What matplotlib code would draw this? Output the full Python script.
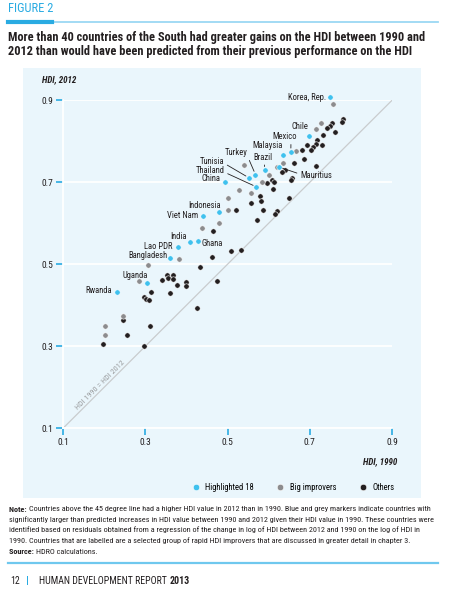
import numpy as np
import matplotlib
matplotlib.use('Agg')
import matplotlib.pyplot as plt
from matplotlib.patches import Rectangle
from matplotlib.lines import Line2D

NARROW = ['Roboto Condensed', 'Liberation Sans Narrow', 'Liberation Sans', 'DejaVu Sans']
plt.rcParams['font.family'] = NARROW

# highlighted 18 countries (HDI 1990, HDI 2012)
hl_names = ['Korea, Rep.', 'Chile', 'Mexico', 'Malaysia', 'Mauritius', 'Brazil',
            'Turkey', 'Tunisia', 'Thailand', 'China', 'Indonesia', 'Viet Nam',
            'India', 'Ghana', 'Lao PDR', 'Bangladesh', 'Uganda', 'Rwanda']
hl_1990 = [0.749, 0.699, 0.654, 0.634, 0.626, 0.590, 0.568, 0.552, 0.570, 0.493,
           0.479, 0.440, 0.410, 0.428, 0.379, 0.361, 0.304, 0.232]
hl_2012 = [0.907, 0.813, 0.775, 0.767, 0.737, 0.730, 0.719, 0.711, 0.689, 0.700,
           0.627, 0.618, 0.554, 0.558, 0.542, 0.515, 0.454, 0.433]

# big improvers (grey)
big_1990 = [0.756, 0.728, 0.714, 0.667, 0.634, 0.620, 0.601, 0.540, 0.583, 0.558, 0.528,
            0.501, 0.502, 0.479, 0.439, 0.383, 0.306, 0.286, 0.246, 0.203, 0.203]
big_2012 = [0.892, 0.845, 0.831, 0.777, 0.746, 0.737, 0.718, 0.741, 0.701, 0.675, 0.680,
            0.661, 0.632, 0.601, 0.589, 0.514, 0.498, 0.459, 0.374, 0.349, 0.327]

# others (black)
oth_1990 = [0.781, 0.778, 0.755, 0.750, 0.741, 0.761, 0.732, 0.717, 0.714, 0.731, 0.707,
            0.704, 0.693, 0.680, 0.685, 0.661, 0.715, 0.641, 0.632, 0.658, 0.655, 0.609,
            0.613, 0.595, 0.610, 0.650, 0.578, 0.582, 0.558, 0.520, 0.587, 0.621, 0.616,
            0.571, 0.464, 0.509, 0.532, 0.463, 0.432, 0.353, 0.367, 0.341, 0.355, 0.368,
            0.399, 0.398, 0.378, 0.475, 0.313, 0.360, 0.296, 0.301, 0.310, 0.426, 0.245,
            0.311, 0.255, 0.197, 0.296]
oth_2012 = [0.854, 0.847, 0.844, 0.838, 0.832, 0.823, 0.815, 0.803, 0.794, 0.790, 0.785,
            0.779, 0.790, 0.779, 0.757, 0.747, 0.740, 0.729, 0.724, 0.710, 0.705, 0.706,
            0.700, 0.699, 0.683, 0.661, 0.667, 0.654, 0.650, 0.632, 0.632, 0.629, 0.623,
            0.609, 0.581, 0.533, 0.535, 0.517, 0.494, 0.475, 0.473, 0.462, 0.466, 0.465,
            0.457, 0.447, 0.450, 0.460, 0.433, 0.430, 0.420, 0.415, 0.414, 0.393, 0.364,
            0.350, 0.327, 0.305, 0.300]

ticks = [0.1, 0.3, 0.5, 0.7, 0.9]

# label placement: offset in pixels from the dot, horizontal alignment, leader relpos
label_pos = {
    'Korea, Rep.': (-4, 0, 'right', None),
    'Chile': (-1, 9, 'right', None),
    'Mexico': (-6, 15, 'center', (0.75, 0.0)),
    'Malaysia': (0, 9, 'right', None),
    'Mauritius': (21, -8, 'left', (0.0, 0.6)),
    'Brazil': (-2, 13, 'center', (0.6, 0.0)),
    'Turkey': (-8, 22, 'right', (1.0, 0.1)),
    'Tunisia': (-25, 16, 'right', (1.0, 0.35)),
    'Thailand': (-32, 16, 'right', (1.0, 0.35)),
    'China': (-4, 4, 'right', None),
    'Indonesia': (2, 7, 'right', None),
    'Viet Nam': (-5, 0, 'right', None),
    'India': (-4, 6, 'right', None),
    'Ghana': (4, -3, 'left', None),
    'Lao PDR': (-5, 1, 'right', None),
    'Bangladesh': (-3, 3, 'right', None),
    'Uganda': (1, 8, 'right', None),
    'Rwanda': (-5, 1, 'right', None),
}

BLUE = '#3FC1EE'
GREY = '#8C8C8E'
BLACK = '#231F20'
RULE = '#29ABE2'
PANEL = '#EAF6FC'

W, H = 450, 594
fig = plt.figure(figsize=(4.5, 5.94), dpi=100)
renderer = fig.canvas.get_renderer()

def fx(px):
    return px / W

def fy(py):
    return 1 - py / H

def fit(t, width_px):
    # scale font so the text spans width_px pixels, return new size
    w = t.get_window_extent(renderer).width
    t.set_fontsize(t.get_fontsize() * width_px / w)
    return t.get_fontsize()

# header
fig.text(fx(8), fy(9), 'FIGURE 2', color=RULE, fontsize=9, va='center', ha='left')
fig.add_artist(Line2D([fx(8), fx(438)], [fy(22), fy(22)], color='#9BD8F3', lw=1.3))
fig.add_artist(Line2D([fx(8), fx(52)], [fy(22), fy(22)], color=RULE, lw=3))
t1 = fig.text(fx(8), fy(37), 'More than 40 countries of the South had greater gains on the HDI between 1990 and',
              fontsize=8, fontweight='bold', color=BLACK, va='center')
t2 = fig.text(fx(8), fy(52), '2012 than would have been predicted from their previous performance on the HDI',
              fontsize=8, fontweight='bold', color=BLACK, va='center')
t2.set_fontsize(fit(t1, 418))

# panel
fig.add_artist(Rectangle((fx(23), fy(498)), fx(421 - 23), (498 - 68) / H,
                         facecolor=PANEL, edgecolor='none', zorder=0))

ax = fig.add_axes([fx(63), fy(428.3), fx(392 - 63), (428.3 - 100.3) / H])
ax.set_facecolor('none')
ax.set_xlim(0.1, 0.9)
ax.set_ylim(0.1, 0.9)
for s in ['top', 'right']:
    ax.spines[s].set_visible(False)
for s in ['left', 'bottom']:
    ax.spines[s].set_color('white')
    ax.spines[s].set_linewidth(1.3)
ax.set_xticks(ticks)
ax.set_yticks(ticks)
ax.set_xticklabels([f'{t:.1f}' for t in ticks])
ax.set_yticklabels([f'{t:.1f}' for t in ticks])
ax.tick_params(colors=RULE, labelcolor=BLACK, length=5, width=1.2, labelsize=6.8, pad=2)
ax.grid(axis='y', color='white', lw=1.3)
ax.set_axisbelow(True)

ax.plot([0.1, 0.9], [0.1, 0.9], color='#C9CCCE', lw=0.9, zorder=1)
ax.text(0.1895, 0.2056, 'HDI 1990 = HDI 2012', rotation=45, fontsize=5.8, color='#9A9C9E',
        ha='center', va='center', rotation_mode='anchor')

ms = 15
oth = ax.scatter(oth_1990, oth_2012, s=ms, color=BLACK, edgecolor='white', lw=0.4,
                 zorder=3, clip_on=False)
big = ax.scatter(big_1990, big_2012, s=ms, color=GREY, edgecolor='white', lw=0.4,
                 zorder=4, clip_on=False)
hl = ax.scatter(hl_1990, hl_2012, s=ms, color=BLUE, edgecolor='white', lw=0.4,
                zorder=5, clip_on=False)

for name, x, y in zip(hl_names, hl_1990, hl_2012):
    dx, dy, ha, rel = label_pos[name]
    kw = {}
    if rel is not None:
        kw['arrowprops'] = dict(arrowstyle='-', color=BLACK, lw=0.6, shrinkA=0.5,
                                shrinkB=2.5, relpos=rel)
    ax.annotate(name, (x, y), xytext=(dx, dy), textcoords='offset pixels',
                ha=ha, va='center', fontsize=6.2, color=BLACK, zorder=6,
                annotation_clip=False, **kw)

fig.text(fx(42), fy(80), 'HDI, 2012', fontsize=6.5, fontweight='bold', fontstyle='italic',
         color=BLACK, va='center', ha='left')
fig.text(fx(397), fy(462), 'HDI, 1990', fontsize=6.5, fontweight='bold', fontstyle='italic',
         color=BLACK, va='center', ha='right')

ax.legend([hl, big, oth], ['Highlighted 18', 'Big improvers', 'Others'], ncol=3,
          loc='center right', bbox_to_anchor=(fx(399), fy(487)), bbox_transform=fig.transFigure,
          frameon=False, fontsize=6.2, handletextpad=0.6, columnspacing=2.6,
          markerscale=1.2, borderpad=0, handlelength=1)

# note
note_lines = [
    'Countries above the 45 degree line had a higher HDI value in 2012 than in 1990. Blue and grey markers indicate countries with',
    'significantly larger than predicted increases in HDI value between 1990 and 2012 given their HDI value in 1990. These countries were',
    'identified based on residuals obtained from a regression of the change in log of HDI between 2012 and 1990 on the log of HDI in',
    '1990. Countries that are labelled are a selected group of rapid HDI improvers that are discussed in greater detail in chapter 3.',
]
note_y = [509, 519.5, 530, 541]
probe = fig.text(fx(9), fy(note_y[1]), note_lines[1], fontsize=5.6, color=BLACK, va='center')
nfs = fit(probe, 421)
n0 = fig.text(fx(9), fy(note_y[0]), 'Note: ', fontsize=nfs, fontweight='bold', color=BLACK, va='center')
nx = 9 + n0.get_window_extent(renderer).width
fig.text(fx(nx), fy(note_y[0]), note_lines[0], fontsize=nfs, color=BLACK, va='center')
for line, y in zip(note_lines[2:], note_y[2:]):
    fig.text(fx(9), fy(y), line, fontsize=nfs, color=BLACK, va='center')
s0 = fig.text(fx(9), fy(551.5), 'Source: ', fontsize=nfs, fontweight='bold', color=BLACK, va='center')
sx = 9 + s0.get_window_extent(renderer).width
fig.text(fx(sx), fy(551.5), 'HDRO calculations.', fontsize=nfs, color=BLACK, va='center')

# footer
fig.add_artist(Line2D([fx(8), fx(438)], [fy(563), fy(563)], color='#6FC8EE', lw=1.6))
fig.text(fx(10), fy(581), '12', fontsize=7, color=BLACK, va='center')
fig.text(fx(26), fy(581), '|', fontsize=8, color=RULE, va='center', fontweight='bold')
hdr = fig.text(fx(39), fy(581), 'HUMAN DEVELOPMENT REPORT', fontsize=7, color=BLACK, va='center')
ffs = fit(hdr, 129)
fig.text(fx(170), fy(581), '2013', fontsize=ffs, fontweight='bold', color=BLACK, va='center')

fig.savefig('out.png', dpi=100)
